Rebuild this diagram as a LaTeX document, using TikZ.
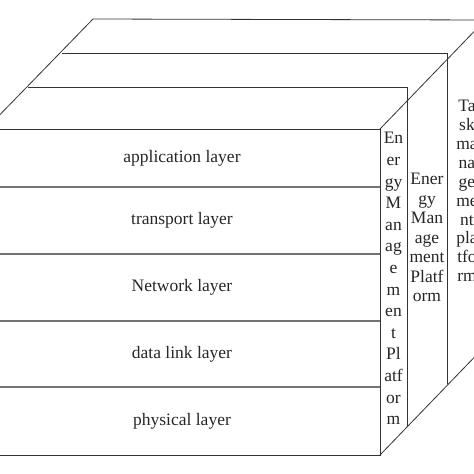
\documentclass[tikz,border=0pt]{standalone}
\usepackage{fontspec}
\setmainfont{Liberation Serif}
\tikzset{
  edge/.style={draw=black!80,line width=0.8pt},
  rule/.style={draw=black!55,line width=1.3pt},
  lbl/.style={inner sep=0pt,text=black!85,font=\fontsize{17.5}{21}\selectfont},
}
\begin{document}
\begin{tikzpicture}[x=1pt,y=-1pt]
        \useasboundingbox (0,0) rectangle (474,474);
        \clip (0,0) rectangle (474,474);
        % front face with the five layers
        \draw[edge] (-14,129) rectangle (380,455);
        \foreach \y in {187,254,321,387}
          \draw[rule] (-14,\y) -- (380,\y);
        \node[lbl] (app) at (182,158) {application layer};
        \node[lbl] (trans) at (182,220.5) {transport layer};
        \node[lbl] (net) at (182,287.5) {Network layer};
        \node[lbl] (link) at (182,354) {data link layer};
        \node[lbl] (phys) at (182,421) {physical layer};
        % slabs behind
        \draw[edge] (28,87) -- (407,87) -- (407,426);
        \draw[edge] (62,53) -- (447,53) -- (447,384);
        \draw[edge] (93,19) -- (490,20);
        % depth edges
        \draw[edge] (-14,129) -- (93,19);
        \draw[edge] (380,129) -- (490,15);
        \draw[edge] (380,455) -- (490,341);
        % side columns
        \node[lbl,align=center,font=\fontsize{17.5}{21.6}\selectfont] (emp1) at (393.5,278.5)
          {En\\er\\gy\\M\\an\\ag\\e\\m\\en\\t\\Pl\\atf\\or\\m};
        \node[lbl,align=center,font=\fontsize{17.5}{19.5}\selectfont] (emp2) at (427,237.5)
          {Ener\\gy\\Man\\age\\ment\\Platf\\orm};
        \node[lbl,align=center,font=\fontsize{17.5}{18.9}\selectfont] (tmp) at (467,191)
          {Ta\\sk\\ma\\na\\ge\\me\\nt\\pla\\tfo\\rm};
\end{tikzpicture}
\end{document}
